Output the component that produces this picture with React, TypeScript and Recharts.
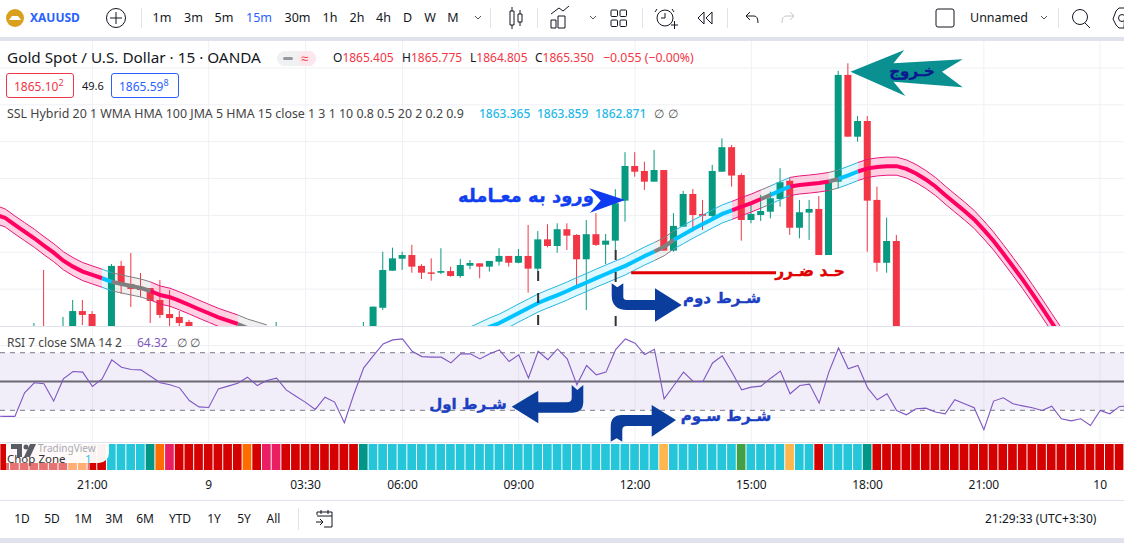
import React from "react";
import { ComposedChart, Bar, Line, Area, Cell, XAxis, YAxis, CartesianGrid, ReferenceLine, ReferenceArea } from "recharts";

// bar numbers are 15 minute candles; bars -1 and 116 only hang over the edges of the window
const timeTickBars = [9, 21, 31, 41, 53, 65, 77, 89, 101, 113];
const timeTickLabels = ["21:00", "9", "03:30", "06:00", "09:00", "12:00", "15:00", "18:00", "21:00", "10"];
const priceGrid = [1866, 1868, 1870, 1872, 1874, 1876, 1878];
const rsiGrid = [75, 25];

const candleBars = [3, 4, 6, 7, 8, 9, 11, 12, 13, 14, 15, 16, 17, 18, 19, 28, 37,
  38, 39, 40, 41, 42, 43, 44, 45, 46, 47, 48, 49, 50, 51, 52, 53, 54, 55, 56, 57, 58, 59, 60, 61, 62, 63, 64, 65,
  66, 67, 68, 69, 70, 71, 72, 73, 74, 75, 76, 77, 78, 79, 80, 81, 82, 83, 84, 85, 86, 87, 88, 89, 90, 91, 92];
const candleOpen = [1863.5, 1863.8, 1863.5, 1863.5, 1864.81, 1864.65, 1863.6, 1867.26, 1866.28, 1866.06, 1866.06, 1865.41, 1864.65, 1864.49, 1864.22, 1863.5, 1863.4,
  1863.6, 1864.99, 1867.0, 1867.65, 1867.85, 1867.26, 1866.91, 1866.89, 1866.98, 1866.71, 1867.27, 1867.4, 1867.22, 1867.49, 1867.8, 1867.43, 1867.8, 1867.11, 1868.7, 1868.34, 1869.25, 1868.94, 1867.62, 1868.98, 1868.41, 1868.63, 1870.8, 1872.68,
  1872.41, 1871.83, 1872.46, 1868.09, 1869.39, 1871.16, 1870.08, 1869.97, 1872.37, 1873.7, 1872.19, 1869.75, 1870.02, 1870.2, 1870.89, 1871.88, 1869.33, 1870.15, 1870.35, 1867.85, 1871.83, 1877.62, 1874.27, 1875.12, 1870.84, 1867.43, 1868.61];
const candleHigh = [1864.16, 1867.04, 1864.49, 1865.41, 1865.41, 1864.81, 1867.36, 1867.53, 1867.96, 1866.88, 1866.06, 1866.5, 1865.95, 1864.81, 1864.33, 1864.22, 1864.22,
  1865.05, 1868.03, 1868.25, 1868.03, 1868.4, 1867.35, 1867.67, 1868.22, 1867.22, 1867.64, 1867.58, 1867.4, 1867.53, 1868.22, 1867.8, 1868.18, 1869.48, 1869.15, 1869.52, 1869.57, 1869.57, 1868.98, 1869.75, 1870.12, 1868.99, 1871.42, 1873.43, 1873.43,
  1872.91, 1873.55, 1872.46, 1870.12, 1871.33, 1871.43, 1870.84, 1872.74, 1874.18, 1873.82, 1872.29, 1870.57, 1871.11, 1871.29, 1872.56, 1872.07, 1870.84, 1870.84, 1871.05, 1871.88, 1877.84, 1878.25, 1875.39, 1875.39, 1871.56, 1869.88, 1868.94];
const candleLow = [1863.3, 1863.3, 1863.3, 1863.3, 1864.05, 1863.4, 1863.4, 1865.74, 1865.03, 1865.57, 1864.16, 1864.43, 1864.0, 1863.9, 1863.5, 1863.3, 1863.2,
  1863.4, 1864.87, 1867.0, 1867.04, 1866.89, 1866.55, 1866.46, 1866.81, 1866.68, 1866.62, 1867.08, 1866.59, 1866.95, 1867.27, 1867.22, 1867.4, 1865.81, 1866.98, 1868.27, 1867.98, 1868.12, 1866.17, 1864.87, 1868.34, 1867.36, 1868.12, 1869.66, 1872.1,
  1871.38, 1871.83, 1868.09, 1868.03, 1869.39, 1869.12, 1869.21, 1869.75, 1872.37, 1871.56, 1868.63, 1869.57, 1869.7, 1869.84, 1870.47, 1868.94, 1868.76, 1868.67, 1867.85, 1867.85, 1871.47, 1874.27, 1874.0, 1868.03, 1866.95, 1866.89, 1863.3];
const candleClose = [1863.7, 1863.5, 1863.9, 1864.81, 1864.6, 1863.6, 1867.26, 1866.28, 1866.01, 1865.95, 1865.36, 1864.6, 1864.43, 1864.16, 1863.7, 1863.9, 1863.8,
  1865.05, 1867.04, 1867.67, 1867.85, 1867.22, 1866.89, 1866.88, 1866.98, 1866.71, 1867.31, 1867.42, 1867.22, 1867.53, 1867.8, 1867.43, 1867.8, 1867.11, 1868.7, 1868.34, 1869.25, 1868.9, 1867.62, 1868.98, 1868.4, 1868.63, 1870.66, 1872.68, 1872.37,
  1871.83, 1872.46, 1868.09, 1869.43, 1871.16, 1870.02, 1869.98, 1872.41, 1873.7, 1872.16, 1869.75, 1870.08, 1870.24, 1870.93, 1871.8, 1869.33, 1870.17, 1870.35, 1867.85, 1871.88, 1877.62, 1874.27, 1875.12, 1870.8, 1867.43, 1868.61, 1863.5];

// SSL channel, falling part (bars -1 to 27)
const sslBaseA = [1870.05, 1869.86, 1869.48, 1869.12, 1868.76, 1868.36, 1867.98, 1867.54, 1867.22, 1866.95, 1866.77, 1866.59, 1866.4, 1866.28, 1866.17, 1866.06, 1865.9, 1865.68, 1865.56, 1865.36, 1865.14, 1864.91, 1864.69, 1864.47, 1864.29, 1864.11, 1863.89, 1863.73, 1863.57];
const sslUpperA = [1870.54, 1870.35, 1869.97, 1869.61, 1869.25, 1868.85, 1868.47, 1868.03, 1867.71, 1867.44, 1867.26, 1867.08, 1866.89, 1866.77, 1866.66, 1866.55, 1866.39, 1866.17, 1866.05, 1865.85, 1865.63, 1865.4, 1865.18, 1864.96, 1864.78, 1864.6, 1864.38, 1864.22, 1864.06];
const sslLowerA = [1869.56, 1869.37, 1868.99, 1868.63, 1868.27, 1867.87, 1867.49, 1867.05, 1866.73, 1866.46, 1866.28, 1866.1, 1865.91, 1865.79, 1865.68, 1865.57, 1865.41, 1865.19, 1865.07, 1864.87, 1864.65, 1864.42, 1864.2, 1863.98, 1863.8, 1863.62, 1863.4, 1863.24, 1863.08];
const sslTrendA = "DDDDDDDDDDDUFFFFDDDDDDDDDFFFF";
const sslStartA = -1;

// SSL channel, rising part (bars 46-110)
const sslBaseB = [1862.97, 1863.21, 1863.46, 1863.7, 1863.95, 1864.16, 1864.43, 1864.71, 1864.98, 1865.25, 1865.47, 1865.68, 1865.9, 1866.14, 1866.36, 1866.6, 1866.82, 1867.04, 1867.26, 1867.53, 1867.8, 1868.04, 1868.3, 1868.67, 1868.96, 1869.26, 1869.53, 1869.81, 1870.08, 1870.27, 1870.48, 1870.67, 1870.89, 1871.11, 1871.35, 1871.57, 1871.65, 1871.7, 1871.76, 1871.84, 1871.98, 1872.17, 1872.38, 1872.55, 1872.63, 1872.67, 1872.67, 1872.52, 1872.27, 1871.95, 1871.57, 1871.11, 1870.67, 1870.24, 1869.78, 1869.21, 1868.61, 1867.93, 1867.23, 1866.52, 1865.76, 1864.98, 1864.19, 1863.4, 1862.59];
const sslUpperB = [1863.46, 1863.7, 1863.95, 1864.19, 1864.44, 1864.65, 1864.92, 1865.2, 1865.47, 1865.74, 1865.96, 1866.17, 1866.39, 1866.63, 1866.85, 1867.09, 1867.31, 1867.53, 1867.75, 1868.02, 1868.29, 1868.53, 1868.79, 1869.16, 1869.45, 1869.75, 1870.02, 1870.3, 1870.57, 1870.76, 1870.97, 1871.16, 1871.38, 1871.6, 1871.84, 1872.06, 1872.14, 1872.19, 1872.25, 1872.33, 1872.47, 1872.66, 1872.87, 1873.04, 1873.12, 1873.16, 1873.16, 1873.01, 1872.76, 1872.44, 1872.06, 1871.6, 1871.16, 1870.73, 1870.27, 1869.7, 1869.1, 1868.42, 1867.72, 1867.01, 1866.25, 1865.47, 1864.68, 1863.89, 1863.08];
const sslLowerB = [1862.48, 1862.72, 1862.97, 1863.21, 1863.46, 1863.67, 1863.94, 1864.22, 1864.49, 1864.76, 1864.98, 1865.19, 1865.41, 1865.65, 1865.87, 1866.11, 1866.33, 1866.55, 1866.77, 1867.04, 1867.31, 1867.55, 1867.81, 1868.18, 1868.47, 1868.77, 1869.04, 1869.32, 1869.59, 1869.78, 1869.99, 1870.18, 1870.4, 1870.62, 1870.86, 1871.08, 1871.16, 1871.21, 1871.27, 1871.35, 1871.49, 1871.68, 1871.89, 1872.06, 1872.14, 1872.18, 1872.18, 1872.03, 1871.78, 1871.46, 1871.08, 1870.62, 1870.18, 1869.75, 1869.29, 1868.72, 1868.12, 1867.44, 1866.74, 1866.03, 1865.27, 1864.49, 1863.7, 1862.91, 1862.1];
const sslTrendB = "UUUUUUUUUUUUUUUUUUUUUFFUUUUUUDDDFUUDDDDFUUDDDDDDDDDDDDDDDDDDDDDDD";
const sslStartB = 46;

// bars -1 to 116
const rsiValues = [25.9, 25.8, 25.8, 42.1, 49.1, 48.4, 36.4, 51.8, 56.9, 56.5, 46.5, 51.8, 65.0, 59.9, 58.3, 58.1, 53.7, 49.1, 47.7, 45.6, 36.8, 32.4, 32.0, 44.9, 46.8, 48.8, 53.0, 47.2, 50.7, 52.3, 44.2, 39.8, 35.5, 30.6, 39.1, 35.7, 21.4, 41.5, 59.5, 68.0,
  76.1, 78.9, 79.6, 71.0, 67.3, 66.9, 66.9, 62.9, 69.2, 69.2, 65.7, 69.2, 71.9, 63.9, 68.5, 52.5, 71.0, 65.2, 72.6, 65.7, 47.7, 61.1, 54.6, 56.5, 72.2, 79.6, 76.6, 68.7, 72.4, 38.0, 47.2, 56.5, 50.0, 50.0, 62.9, 67.8, 56.5, 44.2,
  46.1, 46.8, 52.3, 57.2, 41.5, 47.2, 48.2, 35.0, 56.5, 73.3, 58.8, 61.1, 45.6, 37.3, 41.5, 29.9, 26.9, 31.1, 31.5, 28.8, 27.6, 37.3, 34.5, 31.8, 16.5, 36.4, 38.7, 34.5, 33.1, 31.8, 29.9, 32.9, 24.1, 22.7, 24.1, 19.5, 29.9, 27.6, 32.7, 33.0];

// bars -1 to 116. R red, C cyan, T teal, O orange, P pink, A amber, G green
const chopZone = ["RRRRRRRR", "OO", "RR", "CCCC", "T", "O", "P", "RRRRRRR", "O", "R", "PP", "RRRRRRRR", "T",
  "CCCCCCCCCCCCCCCCCCCCCCCCCCCCCC", "A", "CCCCCCC", "G", "CCCC", "A", "CC", "R", "CCCC", "T", "RRRRRRRRRRRRRRRRRRRRRRRRRRR"].join("");

const FIRST_BAR = -1;
const BAR_COUNT = 118;
const X_DOMAIN: [number, number] = [-0.537, 115.46];
const UP = "#089981";
const DOWN = "#f23645";
const GRID = "#eff1f5";
const TEXT = "#131722";
const FONT = '"Noto Sans", sans-serif';
const CHOP_COLORS = { R: "#d50000", C: "#26c6da", T: "#009688", O: "#ff6d00", P: "#e91e63", A: "#ffb74d", G: "#43a047" };
const SSL_COLORS = { D: "#ff0062", U: "#00c3ff", F: "#808080" };
const SSL_EDGE = { D: "#e8177a", U: "#29b6e0", F: "#808080" };
const SSL_FILL = { D: 0.18, U: 0.12, F: 0.12 };
const TRENDS = ["D", "U", "F"];

const table = Array.from({ length: BAR_COUNT }, (_, i) => ({
  bar: FIRST_BAR + i,
  rsi: rsiValues[i],
  chop: 1,
  zone: chopZone[i],
})) as any[];
const rowOf = (bar: number) => table[bar - FIRST_BAR];
candleBars.forEach((bar, i) => {
  const row = rowOf(bar);
  row.open = candleOpen[i];
  row.high = candleHigh[i];
  row.low = candleLow[i];
  row.close = candleClose[i];
});
const addSsl = (start: number, base: number[], upper: number[], lower: number[], trend: string) => {
  base.forEach((v, i) => {
    const row = rowOf(start + i);
    TRENDS.forEach((t) => {
      // a segment also takes the first point of the next one, so the line stays joined
      if (trend[i] === t || trend[i - 1] === t) {
        row["base" + t] = v;
        row["upper" + t] = upper[i];
        row["lower" + t] = lower[i];
        row["band" + t] = [lower[i], upper[i]];
      }
    });
  });
};
addSsl(sslStartA, sslBaseA, sslUpperA, sslLowerA, sslTrendA);
addSsl(sslStartB, sslBaseB, sslUpperB, sslLowerB, sslTrendB);

const Candle = (props: any) => {
  const { x, y, width, height, payload } = props;
  if (payload.high == null) return null;
  const { open, high, low, close } = payload;
  const perUnit = height / (high - low);
  const top = y + (high - Math.max(open, close)) * perUnit;
  const bodyH = Math.max(1.5, Math.abs(open - close) * perUnit);
  const color = close >= open ? UP : DOWN;
  const cx = x + width / 2;
  return (
    <g>
      <line x1={cx} x2={cx} y1={y} y2={y + height} stroke={color} strokeWidth={1} />
      <rect x={x} y={top} width={width} height={bodyH} fill={color} />
    </g>
  );
};

const T = ({ x, y, c, center, size = 12, color = TEXT, weight, children }: any) => (
  <span
    style={{
      position: "absolute",
      left: x,
      top: y,
      transform: center ? "translate(-50%,-50%)" : "translateY(-50%)",
      fontSize: size,
      color: c || color,
      fontWeight: weight,
      whiteSpace: "nowrap",
      lineHeight: 1,
    }}
  >
    {children}
  </span>
);

const Sep = ({ x, y = 8, h = 20 }: any) => <div style={{ position: "absolute", left: x, top: y, width: 1, height: h, background: "#e0e3eb" }} />;

const Toolbar = () => (
  <>
    {[["1m", 162], ["3m", 193.5], ["5m", 224], ["15m", 259], ["30m", 297.5], ["1h", 330], ["2h", 357], ["4h", 383.5], ["D", 407.5], ["W", 430], ["M", 453]].map(([s, x]) => (
      <T key={s} x={x} y={18} center size={12.5} color={s === "15m" ? "#2962ff" : TEXT}>{s}</T>
    ))}
    <T x={30} y={18} size={12} weight={700} color="#2962ff">XAUUSD</T>
    <T x={970} y={18} size={12.5}>Unnamed</T>
    <Sep x={141} /><Sep x={490} /><Sep x={537} /><Sep x={642} /><Sep x={727} /><Sep x={1058} />
    <svg width={1124} height={37} style={{ position: "absolute", left: 0, top: 0 }} fill="none" stroke={TEXT} strokeWidth={1}>
      <circle cx={15} cy={18} r={9} fill="#d9a01e" stroke="none" />
      <path d="M9 20h12l-3-4h-6z" fill="#fff" stroke="none" />
      <circle cx={116} cy={18} r={9.5} />
      <path d="M116 12v12M110 18h12" />
      <path d="M475 16l3 3 3-3M590 16l3 3 3-3M1041 16l3 3 3-3" stroke="#555" />
      <path d="M510 11h4v14h-4zM512 7v4M512 25v4M518 14h4v8h-4zM520 10v4M520 22v4" />
      <path d="M551 28V20h5v8zM558 28V16h7v12zM551 14l8-6 4 3 6-5" />
      <rect x={611} y={10} width={6.5} height={6.5} rx={1} /><rect x={620} y={10} width={6.5} height={6.5} rx={1} />
      <rect x={611} y={20} width={6.5} height={6.5} rx={1} /><rect x={620} y={20} width={6.5} height={6.5} rx={1} />
      <circle cx={665} cy={18} r={8} /><path d="M665 13v5h-4M657 9l-2 3M672 9l2 3M671 25h7M674.5 21v8" />
      <path d="M704 12l-6 6 6 6zM712 12l-6 6 6 6z" />
      <path d="M750 12l-4 4 4 4M746 16h8q4 0 4 7" />
      <path d="M790 12l4 4-4 4M794 16h-8q-4 0-4 7" stroke="#c4c6cc" />
      <rect x={936} y={9} width={18} height={18} rx={2} />
      <circle cx={1080} cy={17} r={7.5} /><path d="M1085 23l5 5" />
      <circle cx={1122} cy={18} r={3.5} /><path d="M1116 11l3-3h6l-1 20h-5l-3-3-3-6z" />
    </svg>
    <div style={{ position: "absolute", left: 0, top: 37, width: 1124, height: 4, background: "#e0e3eb" }} />
  </>
);

const Legends = () => (
  <>
    <T x={7} y={58} size={15.3}>Gold Spot / U.S. Dollar · 15 · OANDA</T>
    <div style={{ position: "absolute", left: 277, top: 51, width: 39, height: 15, borderRadius: 8, background: "#f0f1f3" }} />
    <div style={{ position: "absolute", left: 297, top: 51, width: 19, height: 15, borderRadius: 8, background: "#fce8ec" }} />
    <div style={{ position: "absolute", left: 283, top: 57, width: 10, height: 3, borderRadius: 2, background: "#9598a1" }} />
    <T x={301} y={58} size={13} color={DOWN}>≈</T>
    <T x={333} y={58}>O<span style={{ color: DOWN }}>1865.405</span></T>
    <T x={402} y={58}>H<span style={{ color: DOWN }}>1865.775</span></T>
    <T x={470} y={58}>L<span style={{ color: DOWN }}>1864.805</span></T>
    <T x={535} y={58}>C<span style={{ color: DOWN }}>1865.350</span></T>
    <T x={603} y={58} size={12.3} color={DOWN}>−0.055 (−0.00%)</T>
    <div style={{ position: "absolute", left: 6, top: 73, width: 66, height: 23, border: "1px solid " + DOWN, borderRadius: 3, background: "#fff" }} />
    <T x={14} y={85} color={DOWN}>1865.10<sup style={{ fontSize: 9 }}>2</sup></T>
    <T x={82} y={85} size={11}>49.6</T>
    <div style={{ position: "absolute", left: 111, top: 73, width: 66, height: 23, border: "1px solid #2962ff", borderRadius: 3, background: "#fff" }} />
    <T x={119} y={85} color="#2962ff">1865.59<sup style={{ fontSize: 9 }}>8</sup></T>
    <T x={7} y={114} size={12.4} color="#444">SSL Hybrid 20 1 WMA HMA 100 JMA 5 HMA 15 close 1 3 1 10 0.8 0.5 20 2 0.2 0.9</T>
    <T x={479} y={114} color="#26b8e8" weight={500}>1863.365</T>
    <T x={537} y={114} color="#26b8e8" weight={500}>1863.859</T>
    <T x={595} y={114} color="#26b8e8" weight={500}>1862.871</T>
    <T x={654} y={114} color="#555">∅</T>
    <T x={668} y={114} color="#555">∅</T>
    <T x={7} y={343} color="#444">RSI 7 close SMA 14 2</T>
    <T x={137} y={343} color="#7e57c2">64.32</T>
    <T x={177} y={343} color="#555">∅</T>
    <T x={190} y={343} color="#555">∅</T>
  </>
);

const Watermark = () => (
  <>
    <div style={{ position: "absolute", left: 6, top: 444, width: 84, height: 26, background: "rgba(255,255,255,.45)" }} />
    <div style={{ position: "absolute", left: 6, top: 443, width: 103, height: 20, background: "rgba(255,255,255,.95)", borderBottomRightRadius: 10 }} />
    <svg width={30} height={16} style={{ position: "absolute", left: 10, top: 443 }} fill="#5a5d66">
      <path d="M1 1h11v13h-5V6H1z" />
      <circle cx={16} cy={4} r={2.5} />
      <path d="M20 1h6l-6 13h-6z" />
    </svg>
    <T x={38} y={448} size={10} color="#a9abb2">TradingView</T>
    <T x={7} y={459} size={11.5} color="#333">Chop Zone</T>
    <T x={85} y={459} size={11.5} color="#26c6da">1</T>
  </>
);

const BottomBar = () => (
  <>
    <div style={{ position: "absolute", left: 0, top: 500, width: 1124, height: 1, background: "#e0e3eb" }} />
    {[["1D", 22], ["5D", 52], ["1M", 83], ["3M", 114], ["6M", 145], ["YTD", 180], ["1Y", 214], ["5Y", 244], ["All", 273.5]].map(([s, x]) => (
      <T key={s} x={x} y={519} center size={12}>{s}</T>
    ))}
    <Sep x={298} y={508} h={22} />
    <svg width={24} height={24} style={{ position: "absolute", left: 312, top: 507 }} fill="none" stroke={TEXT}>
      <path d="M5 8V5h15v15h-8M5 9h15M9 3v4M16 3v4M4 15h7M8 12l3 3-3 3" />
    </svg>
    <T x={985} y={519} size={12}>21:29:33 (UTC+3:30)</T>
    <div style={{ position: "absolute", left: 0, top: 538, width: 1124, height: 5, background: "#e0e3eb" }} />
  </>
);

const Note = ({ x, y, fill, size = 18, children }: any) => (
  <text x={x} y={y} fill={fill} stroke={fill} strokeWidth={0.35} fontSize={size} fontWeight={700} fontFamily='"DejaVu Sans"' textAnchor="middle" dominantBaseline="middle" direction="rtl">
    {children}
  </text>
);

const NAVY = "#0a3d9c";
const Annotations = () => (
  <svg width={1124} height={543} style={{ position: "absolute", left: 0, top: 0, pointerEvents: "none" }}>
    <path d="M625 200L589.3 188.3L600.7 200.7L590 212.7Z" fill="#0f3bf0" />
    <path d="M850.5 71.7L904.3 50L893.5 63.3L962.7 59.3L942 71.7L962.7 87.3L893.5 81.7L905.4 96Z" fill="#0a9090" />
    <path d="M611.7 283.3L617.3 287.3L623.3 283.3L623.3 297Q623.3 300 627 300L655 300L655 288.3L681.7 305L655 321.7L655 310L627 310Q611.7 310 611.7 295Z" fill={NAVY} />
    <path d="M571.7 385L577.3 390L583.3 385L583.3 401.7Q583.3 412.7 571.7 412.7L538.3 412.7L538.3 423.3L511.7 406.7L538.3 390.7L538.3 402.3L566.7 402.3Q571.7 402.3 571.7 398Z" fill={NAVY} />
    <path d="M610.7 441.7L610.7 426.7Q610.7 415 621.7 415L651.7 415L651.7 405L676 420L651.7 436.7L651.7 426L626.7 426Q622.3 426 622.3 430L622.3 441.7L616.7 438.3Z" fill={NAVY} />
    <Note x={526} y={197} fill="#1040f0" size={18}>ورود به معـامله</Note>
    <Note x={912} y={71} fill="#0a1a8c" size={15}>خـروج</Note>
    <Note x={810} y={271} fill="#e00000" size={15.5}>حـد ضـرر</Note>
    <Note x={722} y={298} fill="#1a3fc0" size={15}>شـرط دوم</Note>
    <Note x={468} y={404} fill="#1a3fc0" size={15}>شـرط اول</Note>
    <Note x={726} y={416} fill="#1a3fc0" size={15}>شـرط سـوم</Note>
  </svg>
);

export default function App() {
  return (
    <div style={{ position: "absolute", left: 0, top: 0, width: 1124, height: 543, background: "#fff", overflow: "hidden", fontFamily: FONT }}>
      {/* price pane */}
      <div style={{ position: "absolute", left: 0, top: 41, width: 1124, height: 285, overflow: "hidden" }}>
        <ComposedChart width={1124} height={285} data={table} margin={{ top: 0, right: 0, bottom: 0, left: 0 }}>
          <CartesianGrid stroke={GRID} verticalValues={timeTickBars} horizontalValues={priceGrid} />
          <XAxis dataKey="bar" type="number" domain={X_DOMAIN} allowDataOverflow hide />
          <YAxis type="number" domain={[1864, 1879.46]} allowDataOverflow hide />
          {TRENDS.map((t) => (
            <Area key={"band" + t} dataKey={"band" + t} fill={SSL_COLORS[t]} fillOpacity={SSL_FILL[t]} stroke="none" dot={false} activeDot={false} isAnimationActive={false} />
          ))}
          {TRENDS.map((t) => (
            <Line key={"upper" + t} dataKey={"upper" + t} stroke={SSL_EDGE[t]} strokeWidth={1} dot={false} activeDot={false} isAnimationActive={false} />
          ))}
          {TRENDS.map((t) => (
            <Line key={"lower" + t} dataKey={"lower" + t} stroke={SSL_EDGE[t]} strokeWidth={1} dot={false} activeDot={false} isAnimationActive={false} />
          ))}
          {TRENDS.map((t) => (
            <Line key={"base" + t} dataKey={"base" + t} stroke={SSL_COLORS[t]} strokeWidth={4} dot={false} activeDot={false} isAnimationActive={false} />
          ))}
          <Bar dataKey={(d: any) => (d.high == null ? null : [d.low, d.high])} barSize={7} shape={Candle} isAnimationActive={false} />
          <ReferenceLine segment={[{ x: 55, y: 1866.98 }, { x: 55, y: 1864 }]} stroke="#333" strokeWidth={2} strokeDasharray="10 12" />
          <ReferenceLine segment={[{ x: 63, y: 1868.12 }, { x: 63, y: 1864 }]} stroke="#333" strokeWidth={2} strokeDasharray="10 12" />
          <ReferenceLine segment={[{ x: 64.6, y: 1866.89 }, { x: 79.55, y: 1866.89 }]} stroke="#e00000" strokeWidth={3} />
        </ComposedChart>
      </div>
      <div style={{ position: "absolute", left: 0, top: 326, width: 1124, height: 1, background: "#e0e3eb" }} />

      {/* RSI pane */}
      <div style={{ position: "absolute", left: 0, top: 327, width: 1124, height: 115 }}>
        <ComposedChart width={1124} height={115} data={table} margin={{ top: 0, right: 0, bottom: 0, left: 0 }}>
          <CartesianGrid stroke={GRID} verticalValues={timeTickBars} horizontalValues={rsiGrid} />
          <XAxis dataKey="bar" type="number" domain={X_DOMAIN} allowDataOverflow hide />
          <YAxis type="number" domain={[8, 87.85]} allowDataOverflow hide />
          <ReferenceArea y1={30} y2={70} fill="#7e57c2" fillOpacity={0.1} stroke="none" />
          <ReferenceLine y={70} stroke="#787b86" strokeDasharray="5 5" />
          <ReferenceLine y={30} stroke="#787b86" strokeDasharray="5 5" />
          <ReferenceLine y={50} stroke="#6a6875" strokeWidth={2} />
          <Line dataKey="rsi" stroke="#7e57c2" strokeWidth={1.1} dot={false} activeDot={false} isAnimationActive={false} />
        </ComposedChart>
      </div>
      <div style={{ position: "absolute", left: 0, top: 442, width: 1124, height: 1, background: "#e0e3eb" }} />

      {/* chop zone pane and time axis */}
      <div style={{ position: "absolute", left: 0, top: 443, width: 1124, height: 57 }}>
        <ComposedChart width={1124} height={57} data={table} margin={{ top: 1, right: 0, bottom: 0, left: 0 }}>
          <XAxis
            dataKey="bar"
            type="number"
            domain={X_DOMAIN}
            allowDataOverflow
            ticks={timeTickBars}
            interval={0}
            height={30}
            axisLine={false}
            tickLine={false}
            tickMargin={4}
            tick={{ fill: TEXT, fontSize: 12, fontFamily: FONT }}
            tickFormatter={(v: number) => timeTickLabels[timeTickBars.indexOf(v)]}
          />
          <YAxis type="number" domain={[0, 1]} hide />
          <Bar dataKey="chop" barSize={8.7} isAnimationActive={false}>
            {table.map((d) => (
              <Cell key={d.bar} fill={CHOP_COLORS[d.zone]} />
            ))}
          </Bar>
        </ComposedChart>
      </div>

      <Toolbar />
      <Legends />
      <Watermark />
      <BottomBar />
      <Annotations />
    </div>
  );
}
